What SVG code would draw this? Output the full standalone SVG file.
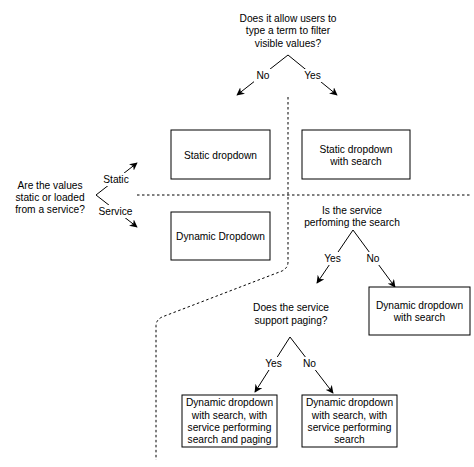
<svg xmlns="http://www.w3.org/2000/svg" width="474" height="467" viewBox="0 0 474 467">
<defs>
<style>
text{font-family:"Liberation Sans",Arial,sans-serif;font-size:10.2px;fill:#000;text-anchor:middle;dominant-baseline:central}
.box{fill:#fff;stroke:#000;stroke-width:1}
.edge{fill:none;stroke:#000;stroke-width:1}
.arr{marker-end:url(#ah)}
.dash{fill:none;stroke:#000;stroke-width:1;stroke-dasharray:2.5 2.5}
.lblbg{fill:#fff}
</style>
<marker id="ah" viewBox="0 0 10 10" refX="9" refY="5" markerWidth="8" markerHeight="8" markerUnits="userSpaceOnUse" orient="auto">
<path d="M0,0 L10,5 L0,10 L3,5 Z" fill="#000"/>
</marker>
</defs>
<rect width="474" height="467" fill="#fff"/>
<g id="dividers">
<path class="dash" d="M288,97 L288,262 Q288,268 282,271 L162,317 Q156,320 156,326 L156,460"/>
<path class="dash" d="M137,195 L470,195"/>
</g>
<g id="connectors">
<path class="edge arr" d="M288,55 L237,95"/>
<path class="edge arr" d="M288,55 L337,95"/>
<path class="edge arr" d="M96,195 L137,163"/>
<path class="edge arr" d="M96,195 L137,227"/>
<path class="edge arr" d="M353,230 L317,283"/>
<path class="edge arr" d="M353,230 L395,287"/>
<path class="edge arr" d="M290,337 L255,392"/>
<path class="edge arr" d="M290,337 L333,393"/>
<rect class="lblbg" x="254" y="69" width="18" height="13"/>
<text x="263" y="75.5">No</text>
<rect class="lblbg" x="302" y="69" width="21" height="13"/>
<text x="312.5" y="75.5">Yes</text>
<rect class="lblbg" x="103" y="173" width="27" height="13"/>
<text x="116" y="179">Static</text>
<rect class="lblbg" x="97" y="205" width="38" height="13"/>
<text x="115.5" y="211.5">Service</text>
<rect class="lblbg" x="322" y="252" width="21" height="13"/>
<text x="332.5" y="258.5">Yes</text>
<rect class="lblbg" x="364" y="252" width="18" height="13"/>
<text x="373" y="258.5">No</text>
<rect class="lblbg" x="263" y="357" width="21" height="13"/>
<text x="273.5" y="363.5">Yes</text>
<rect class="lblbg" x="300" y="357" width="18" height="13"/>
<text x="309.5" y="363.5">No</text>
</g>
<g id="q-filter">
<text x="288" y="18">Does it allow users to</text>
<text x="288" y="30.5">type a term to filter</text>
<text x="288" y="43">visible values?</text>
</g>
<g id="q-static">
<text x="50" y="185">Are the values</text>
<text x="50" y="197">static or loaded</text>
<text x="50" y="209">from a service?</text>
</g>
<g id="static-dropdown">
<rect class="box" x="171" y="130" width="99" height="49"/>
<text x="220.5" y="155">Static dropdown</text>
</g>
<g id="static-dropdown-search">
<rect class="box" x="302" y="130" width="108" height="49"/>
<text x="356" y="149">Static dropdown</text>
<text x="356" y="161.5">with search</text>
</g>
<g id="dynamic-dropdown">
<rect class="box" x="171" y="212" width="99" height="48"/>
<text x="220.5" y="236.5">Dynamic Dropdown</text>
</g>
<g id="q-service-search">
<text x="352" y="210">Is the service</text>
<text x="352" y="222">perfoming the search</text>
</g>
<g id="dynamic-dropdown-search">
<rect class="box" x="369" y="287" width="101" height="48"/>
<text x="419.5" y="305">Dynamic dropdown</text>
<text x="419.5" y="317.5">with search</text>
</g>
<g id="q-paging">
<text x="291" y="307.5">Does the service</text>
<text x="291" y="320">support paging?</text>
</g>
<g id="dd-search-paging">
<rect class="box" x="182" y="395" width="95" height="52"/>
<text x="229.5" y="402.5">Dynamic dropdown</text>
<text x="229.5" y="415">with search, with</text>
<text x="229.5" y="427">service performing</text>
<text x="229.5" y="439">search and paging</text>
</g>
<g id="dd-search-service">
<rect class="box" x="302" y="395" width="95" height="52"/>
<text x="349.5" y="402.5">Dynamic dropdown</text>
<text x="349.5" y="415">with search, with</text>
<text x="349.5" y="427">service performing</text>
<text x="349.5" y="439">search</text>
</g>
</svg>
